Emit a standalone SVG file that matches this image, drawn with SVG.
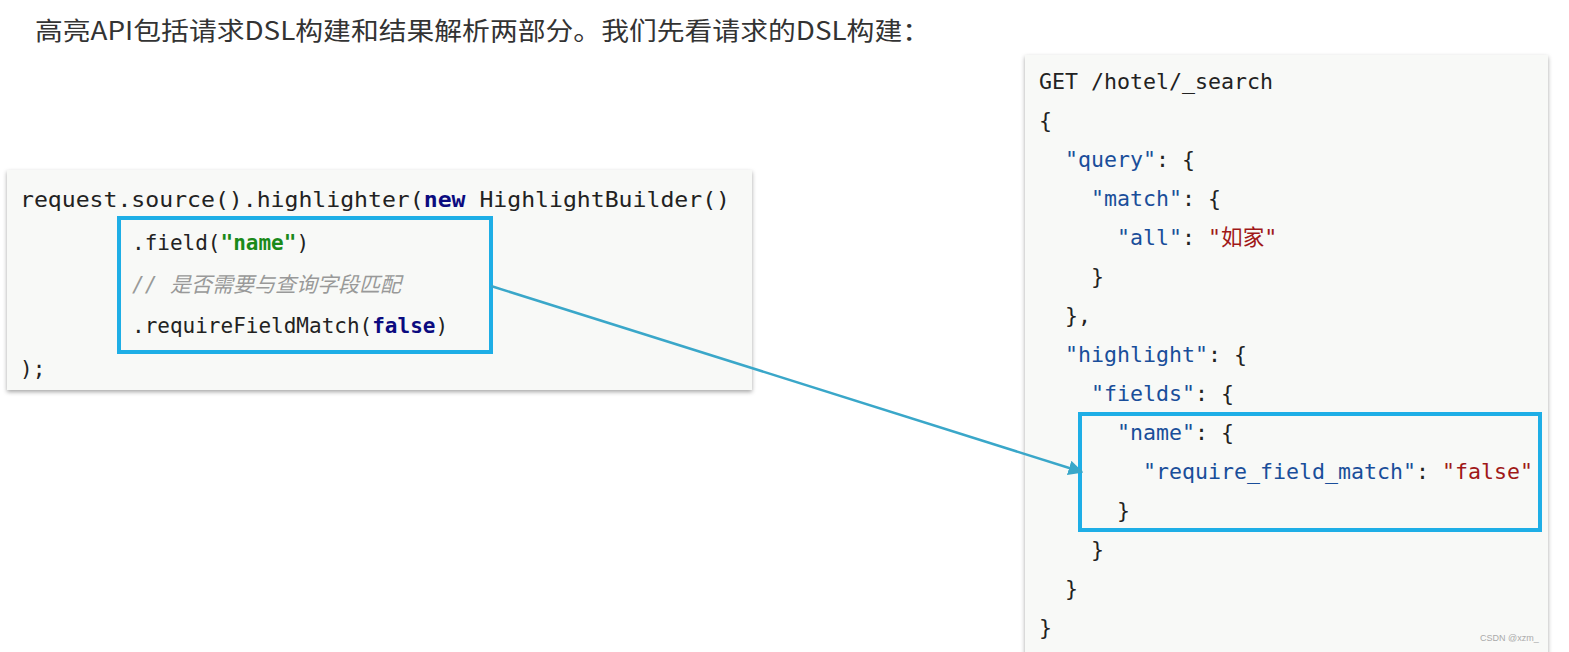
<svg xmlns="http://www.w3.org/2000/svg" width="1569" height="652" viewBox="0 0 1569 652">
<defs>
<style>
.code{font-family:"DejaVu Sans Mono","Noto Sans CJK SC",monospace;font-size:21px;fill:#222}
.r{font-size:21.6px}
.kw{fill:#0b0b80;font-weight:bold}
.str{fill:#1a8a1a;font-weight:bold}
.cm{fill:#999;font-style:italic}
.key{fill:#1a4e9a}
.val{fill:#a01818}
.hl{fill:none;stroke:#1eaee6;stroke-width:4}
</style>
<filter id="sh" x="-5%" y="-5%" width="110%" height="115%"><feDropShadow dx="0" dy="2" stdDeviation="2" flood-color="#000" flood-opacity="0.35"/></filter>
<marker id="ah" viewBox="0 0 10 10" refX="9" refY="5" markerWidth="6" markerHeight="6" orient="auto"><path d="M0,0 L10,5 L0,10 z" fill="#3aa7c9"/></marker>
</defs>
<rect width="1569" height="652" fill="#fff"/>
<text x="35" y="40" font-family="'Noto Sans CJK SC',sans-serif" font-size="25" fill="#333" textLength="895" lengthAdjust="spacingAndGlyphs">高亮API包括请求DSL构建和结果解析两部分。我们先看请求的DSL构建：</text>
<g id="java">
<rect x="7" y="170" width="745" height="220" fill="#f8f9f7" filter="url(#sh)"/>
<text class="code" x="20" y="207" textLength="710" lengthAdjust="spacingAndGlyphs">request.source().highlighter(<tspan class="kw">new</tspan> HighlightBuilder()</text>
<text class="code" x="132" y="250">.field(<tspan class="str">"name"</tspan>)</text>
<text class="code cm" x="132" y="292">// 是否需要与查询字段匹配</text>
<text class="code" x="132" y="333">.requireFieldMatch(<tspan class="kw">false</tspan>)</text>
<text class="code" x="20" y="376">);</text>
<rect id="box1" class="hl" x="119" y="218" width="372" height="134"/>
</g>
<g id="dsl">
<rect x="1025" y="55" width="523" height="600" fill="#f8f9f7" filter="url(#sh)"/>
<g class="code r">
<text x="1039" y="89">GET /hotel/_search</text>
<text x="1039" y="128">{</text>
<text x="1065" y="167"><tspan class="key">"query"</tspan>: {</text>
<text x="1091" y="206"><tspan class="key">"match"</tspan>: {</text>
<text x="1117" y="245"><tspan class="key">"all"</tspan>: <tspan class="val">"如家"</tspan></text>
<text x="1091" y="284">}</text>
<text x="1065" y="323">},</text>
<text x="1065" y="362"><tspan class="key">"highlight"</tspan>: {</text>
<text x="1091" y="401"><tspan class="key">"fields"</tspan>: {</text>
<text x="1117" y="440"><tspan class="key">"name"</tspan>: {</text>
<text x="1143" y="479"><tspan class="key">"require_field_match"</tspan>: <tspan class="val">"false"</tspan></text>
<text x="1117" y="518">}</text>
<text x="1091" y="557">}</text>
<text x="1065" y="596">}</text>
<text x="1039" y="635">}</text>
</g>
<rect id="box2" class="hl" x="1080" y="414" width="460" height="116"/>
</g>
<g id="connectors">
<line x1="491" y1="286" x2="1082" y2="472" stroke="#3aa7c9" stroke-width="2.5" marker-end="url(#ah)"/>
</g>
<text x="1480" y="641" font-family="'Liberation Sans',sans-serif" font-size="9" fill="#aaa">CSDN @xzm_</text>
</svg>
